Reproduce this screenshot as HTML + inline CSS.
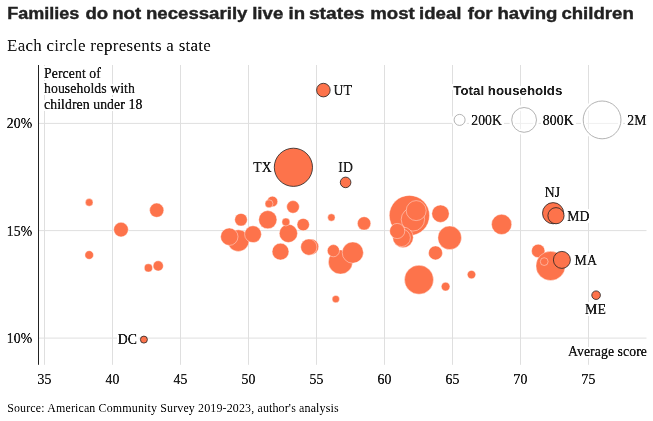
<!DOCTYPE html>
<html lang="en"><head><meta charset="utf-8"><title>Families do not necessarily live in states most ideal for having children</title>
<style>
html,body{margin:0;padding:0;background:#fff;}
body{width:653px;height:421px;overflow:hidden;}
svg{display:block;}
.serif{font-family:"Liberation Serif","Times New Roman",serif;}
.sans{font-family:"Liberation Sans",Arial,sans-serif;}
.halo{filter:url(#halo);}
.ink{stroke:#222;stroke-width:0.22px;}
</style></head><body>
<svg width="653" height="421" viewBox="0 0 653 421">
<defs><filter id="halo" x="-30%" y="-50%" width="160%" height="200%"><feMorphology in="SourceAlpha" operator="dilate" radius="2.2" result="d"/><feGaussianBlur in="d" stdDeviation="0.5" result="b"/><feFlood flood-color="#fff" result="w"/><feComposite in="w" in2="b" operator="in" result="h"/><feComponentTransfer in="h" result="h2"><feFuncA type="linear" slope="3" intercept="0"/></feComponentTransfer><feComponentTransfer in="SourceGraphic" result="g2"><feFuncA type="linear" slope="1.45" intercept="0"/></feComponentTransfer><feMerge><feMergeNode in="h2"/><feMergeNode in="g2"/></feMerge></filter></defs>
<rect width="653" height="421" fill="#fff"/>
<g class="sans" font-size="16.6" font-weight="bold" fill="#222" stroke="#222" stroke-width="0.38">
<text transform="translate(7.3,18.9) scale(1.085,1)">Families</text>
<text transform="translate(85.4,18.9) scale(1.1224,1)">do</text>
<text transform="translate(112.25,18.9) scale(1.1224,1)">not</text>
<text transform="translate(146.0,18.9) scale(1.1224,1)">necessarily</text>
<text transform="translate(252.2,18.9) scale(1.1224,1)">live</text>
<text transform="translate(288.5,18.9) scale(1.1224,1)">in</text>
<text transform="translate(308.9,18.9) scale(1.16,1)">states</text>
<text transform="translate(370.3,18.9) scale(1.1224,1)">most</text>
<text transform="translate(419.0,18.9) scale(1.1224,1)">ideal</text>
<text transform="translate(467.7,18.9) scale(1.1224,1)">for</text>
<text transform="translate(497.5,18.9) scale(1.1224,1)">having</text>
<text transform="translate(561.4,18.9) scale(1.1224,1)">children</text>
</g>
<text class="serif halo" x="7" y="50.7" font-size="17" letter-spacing="0.26" fill="#222">Each circle represents a state</text>
<g stroke="#dfdfdf" stroke-width="1" fill="none">
<line x1="44.5" y1="65" x2="44.5" y2="364.8"/>
<line x1="112.5" y1="65" x2="112.5" y2="364.8"/>
<line x1="180.5" y1="65" x2="180.5" y2="364.8"/>
<line x1="248.5" y1="65" x2="248.5" y2="364.8"/>
<line x1="316.5" y1="65" x2="316.5" y2="364.8"/>
<line x1="384.5" y1="65" x2="384.5" y2="364.8"/>
<line x1="452.5" y1="65" x2="452.5" y2="364.8"/>
<line x1="520.5" y1="65" x2="520.5" y2="364.8"/>
<line x1="588.5" y1="65" x2="588.5" y2="364.8"/>
<line x1="38.4" y1="123.4" x2="646.5" y2="123.4"/>
<line x1="38.4" y1="230.6" x2="646.5" y2="230.6"/>
<line x1="38.4" y1="338.1" x2="646.5" y2="338.1"/>
</g>
<line x1="38.5" y1="65" x2="38.5" y2="364.8" stroke="#222" stroke-width="1"/>
<g class="serif ink" font-size="13.75" letter-spacing="0.08" fill="#222">
<text class="halo" x="32.2" y="128.3" text-anchor="end">20%</text>
<text class="halo" x="32.2" y="235.5" text-anchor="end">15%</text>
<text class="halo" x="32.2" y="343.0" text-anchor="end">10%</text>
<text class="halo" x="44.5" y="384.2" text-anchor="middle">35</text>
<text class="halo" x="112.5" y="384.2" text-anchor="middle">40</text>
<text class="halo" x="180.5" y="384.2" text-anchor="middle">45</text>
<text class="halo" x="248.5" y="384.2" text-anchor="middle">50</text>
<text class="halo" x="316.5" y="384.2" text-anchor="middle">55</text>
<text class="halo" x="384.5" y="384.2" text-anchor="middle">60</text>
<text class="halo" x="452.5" y="384.2" text-anchor="middle">65</text>
<text class="halo" x="520.5" y="384.2" text-anchor="middle">70</text>
<text class="halo" x="588.5" y="384.2" text-anchor="middle">75</text>
<text class="halo" x="44" y="77.6">Percent of</text>
<text class="halo" x="44" y="93.45">households with</text>
<text class="halo" x="44" y="109.3">children under 18</text>
<text class="halo" x="647" y="356" text-anchor="end">Average score</text>
</g>
<g fill="#fd734b" stroke="#fff" stroke-opacity="0.75" stroke-width="0.55">
<circle cx="89.2" cy="202.4" r="3.8"/>
<circle cx="121" cy="229.6" r="7.3"/>
<circle cx="156.7" cy="210.2" r="7.1"/>
<circle cx="89.2" cy="255" r="4.3"/>
<circle cx="148.4" cy="267.9" r="4.1"/>
<circle cx="158.2" cy="265.9" r="5.1"/>
<circle cx="238.3" cy="240.6" r="10.8"/>
<circle cx="229.3" cy="236.7" r="8.7"/>
<circle cx="241" cy="219.7" r="6.3"/>
<circle cx="253" cy="234.2" r="8.4"/>
<circle cx="267.8" cy="219.7" r="9.1"/>
<circle cx="272.4" cy="201.5" r="5.3"/>
<circle cx="269" cy="203.8" r="4.0"/>
<circle cx="293" cy="206.9" r="6.3"/>
<circle cx="288.4" cy="233.4" r="9.1"/>
<circle cx="285.9" cy="222" r="4.0"/>
<circle cx="303.2" cy="224.6" r="6.2"/>
<circle cx="280.5" cy="251.6" r="8.4"/>
<circle cx="310.8" cy="246.8" r="7.9"/>
<circle cx="308.8" cy="247.1" r="8.1"/>
<circle cx="331.4" cy="217.5" r="3.7"/>
<circle cx="364.1" cy="223.4" r="6.7"/>
<circle cx="340.5" cy="262" r="12.1"/>
<circle cx="333.4" cy="250.7" r="6.1"/>
<circle cx="352.8" cy="252.6" r="10.6"/>
<circle cx="335.8" cy="299.1" r="3.7"/>
<circle cx="409.4" cy="215.5" r="20.1"/>
<circle cx="412.9" cy="219.4" r="11.7"/>
<circle cx="416.2" cy="210.6" r="10.0"/>
<circle cx="403" cy="237.4" r="10.3"/>
<circle cx="401.6" cy="237.8" r="8.8"/>
<circle cx="397.2" cy="231" r="7.6"/>
<circle cx="440.5" cy="213.7" r="8.7"/>
<circle cx="449.7" cy="237.8" r="11.8"/>
<circle cx="435.5" cy="252.9" r="7.0"/>
<circle cx="419" cy="279.7" r="14.5"/>
<circle cx="445.6" cy="286.6" r="4.3"/>
<circle cx="471.5" cy="274.6" r="4.2"/>
<circle cx="501.6" cy="224.4" r="10.1"/>
<circle cx="538.2" cy="250.9" r="6.7"/>
<circle cx="550.6" cy="265.9" r="14.6"/>
<circle cx="544.2" cy="261.6" r="3.9"/>
</g>
<g fill="#fd734b" stroke="#222" stroke-width="0.8">
<circle cx="323.4" cy="90.1" r="6.8"/>
<circle cx="293.4" cy="167.3" r="19.1"/>
<circle cx="345.6" cy="182.4" r="5.3"/>
<circle cx="553.1" cy="213.2" r="10.6"/>
<circle cx="556" cy="215.7" r="8.1"/>
<circle cx="561.9" cy="259.9" r="8.5"/>
<circle cx="596.1" cy="295.2" r="4.3"/>
<circle cx="143.9" cy="339.6" r="3.5"/>
</g>
<g class="serif ink" font-size="13.75" letter-spacing="0.08" fill="#222">
<text class="halo" x="333.6" y="94.7" text-anchor="start">UT</text>
<text class="halo" x="271.8" y="172.4" text-anchor="end">TX</text>
<text class="halo" x="345.7" y="171.9" text-anchor="middle">ID</text>
<text class="halo" x="552.5" y="196.8" text-anchor="middle">NJ</text>
<text class="halo" x="567.3" y="220.6" text-anchor="start">MD</text>
<text class="halo" x="574.6" y="264.6" text-anchor="start">MA</text>
<text class="halo" x="595.5" y="313.8" text-anchor="middle">ME</text>
<text class="halo" x="137.1" y="344.4" text-anchor="end">DC</text>
</g>
<text class="sans halo" x="453.3" y="94.8" font-size="13.3" font-weight="bold" fill="#222">Total households</text>
<g fill="#fff" fill-opacity="0.5" stroke="#fff" stroke-width="5">
<circle cx="459.6" cy="119.9" r="5.5"/>
<circle cx="524.1" cy="119.9" r="12.4"/>
<circle cx="602.1" cy="119.9" r="18.9"/>
</g>
<g fill="none" stroke="#aaa" stroke-width="0.9">
<circle cx="459.6" cy="119.9" r="5.5"/>
<circle cx="524.1" cy="119.9" r="12.4"/>
<circle cx="602.1" cy="119.9" r="18.9"/>
</g>
<g class="serif ink" font-size="13.75" letter-spacing="0.08" fill="#222">
<text class="halo" x="471.2" y="124.5">200K</text>
<text class="halo" x="542.8" y="124.5">800K</text>
<text class="halo" x="627.2" y="124.5">2M</text>
</g>
<text class="serif halo" x="7.2" y="412.2" font-size="12" letter-spacing="0.125" fill="#222">Source: American Community Survey 2019-2023, author's analysis</text>
</svg></body></html>
